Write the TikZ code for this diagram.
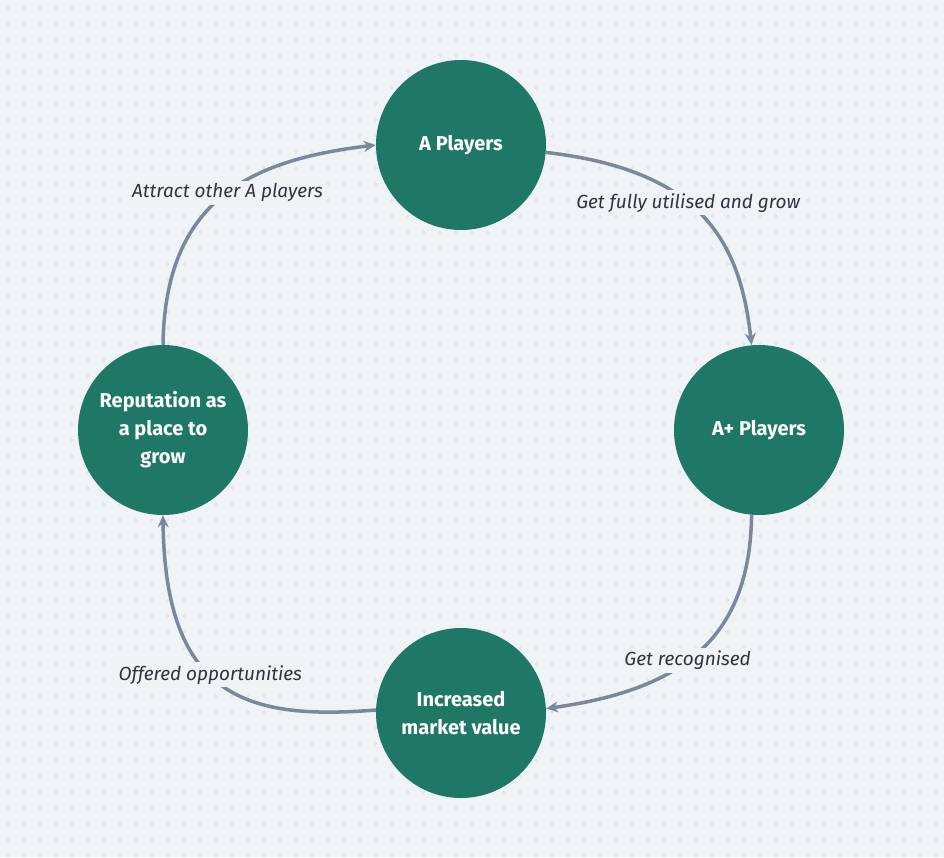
\documentclass[tikz,border=0pt]{standalone}
\usepackage{fontspec}
\setmainfont{Fira Sans}
\usetikzlibrary{arrows.meta}
\definecolor{bg}{HTML}{F0F3F6}
\definecolor{dotc}{HTML}{C5CBD2}
\definecolor{nodec}{HTML}{1F7866}
\definecolor{edgec}{HTML}{7A8899}
\definecolor{txt}{HTML}{2E3440}
\begin{document}
\begin{tikzpicture}[x=1pt,y=-1pt,
  circ/.style={circle,fill=nodec,minimum size=170pt,text=white,font=\fontsize{20}{28}\selectfont\bfseries,align=center,inner sep=0pt},
  edge/.style={draw=edgec,line width=3.5pt,-{Stealth[length=12pt,width=11pt]}},
  lab/.style={fill=bg,text=txt,font=\fontsize{19}{22}\selectfont\itshape,inner sep=3pt}]
\fill[bg] (0,0) rectangle (944,857);
\useasboundingbox (0,0) rectangle (944,857);
\foreach \i in {0,...,59}{\foreach \j in {0,...,53}{\fill[dotc] (8+16*\i,8+16*\j) circle (0.9pt);}}
\node[circ] (a) at (461,145) {A Players};
\node[circ] (ap) at (759,430) {A+ Players};
\node[circ] (im) at (461,713) {Increased\\market value};
\node[circ] (rep) at (163,430) {Reputation as\\a place to\\grow};
\draw[edge] (a.-5) .. controls (700,170) and (740,240) .. (ap.95) node[lab,pos=0.43] (l1) {Get fully utilised and grow};
\draw[edge] (ap.-95) .. controls (750,640) and (680,690) .. (im.3) node[lab,pos=0.55] (l2) {Get recognised};
\draw[edge] (im.178) .. controls (250,720) and (165,700) .. (rep.-90) node[lab,pos=0.56] (l3) {Offered opportunities};
\draw[edge] (rep.90) .. controls (165,200) and (250,160) .. (a.180) node[lab,pos=0.52] (l4) {Attract other A players};
\end{tikzpicture}
\end{document}
